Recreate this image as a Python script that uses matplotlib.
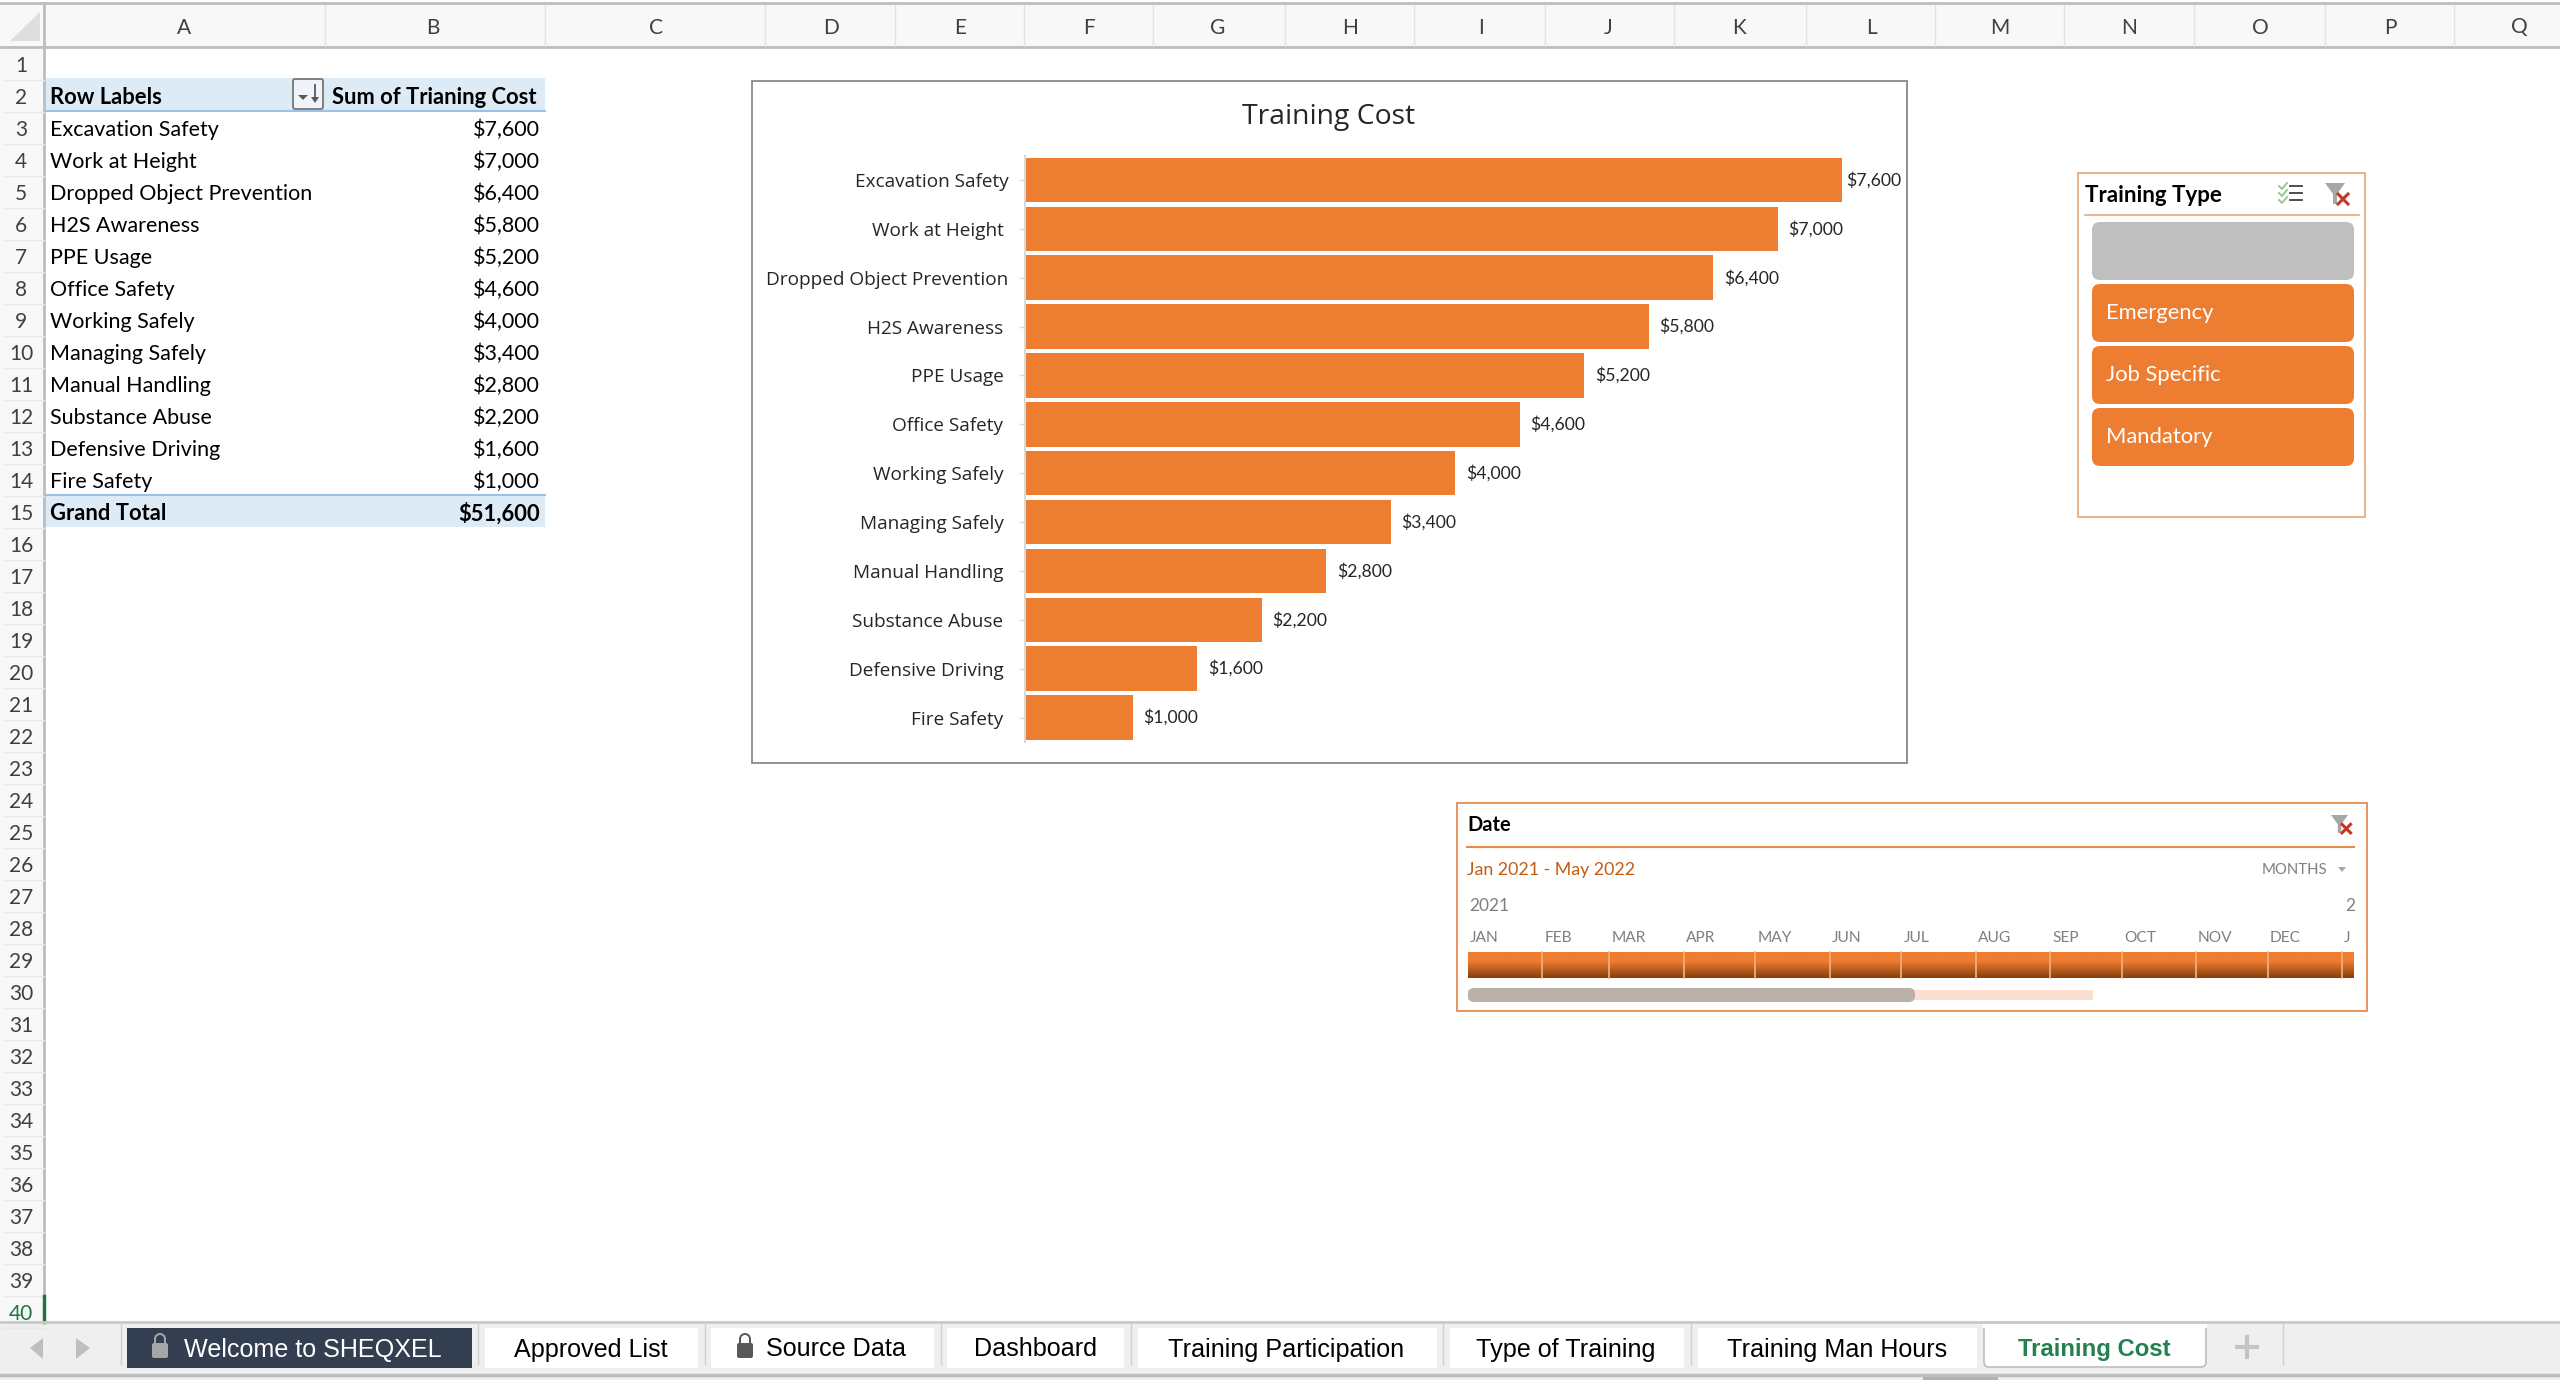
import numpy as np
import matplotlib
matplotlib.use("Agg")
import matplotlib.pyplot as plt
from matplotlib.patches import Rectangle, FancyBboxPatch, Polygon, Wedge

# data from the pivot table
names = ["Excavation Safety", "Work at Height", "Dropped Object Prevention", "H2S Awareness",
         "PPE Usage", "Office Safety", "Working Safely", "Managing Safely",
         "Manual Handling", "Substance Abuse", "Defensive Driving", "Fire Safety"]
costs = [7600, 7000, 6400, 5800, 5200, 4600, 4000, 3400, 2800, 2200, 1600, 1000]
# the chart labels in the sheet mostly carry a trailing blank
chart_names = ["Excavation Safety", "Work at Height ", "Dropped Object Prevention", "H2S Awareness ",
               "PPE Usage ", "Office Safety ", "Working Safely ", "Managing Safely ",
               "Manual Handling ", "Substance Abuse ", "Defensive Driving ", "Fire Safety "]
slicer_items = ["", "Emergency", "Job Specific", "Mandatory"]
months = ["JAN", "FEB", "MAR", "APR", "MAY", "JUN", "JUL", "AUG", "SEP", "OCT", "NOV", "DEC", "J"]
month_days = [31, 28, 31, 30, 31, 30, 31, 31, 30, 31, 30, 31, 5]
col_letters = list("ABCDEFGHIJKLMNOPQ")
col_edges = [45, 325, 545, 765, 895, 1024, 1153, 1285, 1414, 1545, 1674, 1806, 1935, 2064, 2194, 2325, 2454, 2560]
col_centers = [184, 433, 656, 831, 960, 1089, 1218, 1350, 1481, 1608, 1739, 1871, 2000, 2129, 2260, 2390, 2519]
tabs = ["Welcome to SHEQXEL", "Approved List", "Source Data", "Dashboard", "Training Participation",
        "Type of Training", "Training Man Hours", "Training Cost"]
tab_edges = [(127, 472), (485, 698), (711, 934), (947, 1124), (1138, 1437), (1450, 1684), (1698, 1977), (1984, 2206)]
tab_text_x = [313, 591, 836, 1036, 1286, 1566, 1837, 2094]

ORANGE = "#ED7D31"
W, H = 2560, 1380
CELL = "Lato"
CHART = "Open Sans"
TAB = "Liberation Sans"


def row_y(n):
    return 66 + 32 * (n - 1)


def funnel(ax, x, y, s=1.0):
    # little clear-filter icon
    ax.add_patch(Polygon([(x, y), (x + 20 * s, y), (x + 12 * s, y + 11 * s), (x + 12 * s, y + 21 * s),
                          (x + 8 * s, y + 21 * s), (x + 8 * s, y + 11 * s)], fc="#A6A6A6", ec="none"))
    ax.plot([x + 13 * s, x + 23 * s], [y + 11 * s, y + 21 * s], color="#C0392B", lw=2.2)
    ax.plot([x + 23 * s, x + 13 * s], [y + 11 * s, y + 21 * s], color="#C0392B", lw=2.2)


def lock(ax, x, y, col):
    ax.add_patch(Wedge((x, y - 9), 6, 180, 360, width=2, fc=col, ec="none"))
    ax.add_patch(Rectangle((x - 6, y - 10), 2, 5, fc=col, ec="none"))
    ax.add_patch(Rectangle((x + 4, y - 10), 2, 5, fc=col, ec="none"))
    ax.add_patch(FancyBboxPatch((x - 8, y - 5), 16, 15, boxstyle="round,pad=0,rounding_size=2", fc=col, ec="none"))


fig = plt.figure(figsize=(25.6, 13.8), dpi=100, facecolor="white")
bg = fig.add_axes([0, 0, 1, 1])
bg.set_xlim(0, W)
bg.set_ylim(H, 0)
bg.axis("off")

# --- sheet headers ---
bg.add_patch(Rectangle((0, 3), W, 44, fc="#F8F8F8", ec="none"))
bg.add_patch(Rectangle((0, 47), 45, 1275, fc="#F8F8F8", ec="none"))
bg.plot([0, W], [3, 3], color="#BDBDBD", lw=2)
bg.plot([0, W], [47, 47], color="#BDBDBD", lw=2)
bg.plot([44, 44], [3, 1296], color="#BDBDBD", lw=2)
bg.add_patch(Polygon([(10, 41), (40, 41), (40, 12)], fc="#DEDEDE", ec="none"))
for x in col_edges[1:-1]:
    bg.plot([x, x], [5, 46], color="#E3E3E3", lw=1)
for c, x in zip(col_letters, col_centers):
    bg.text(x, 27.5, c, ha="center", va="center", family=CELL, fontsize=15, color="#404040")
for n in range(1, 41):
    y = row_y(n)
    bg.plot([3, 44], [y + 14, y + 14], color="#E8E8E8", lw=1)
    bg.text(21, y, str(n), ha="center", va="center", family=CELL, fontsize=15,
            color="#217346" if n == 40 else "#404040")
bg.plot([44, 44], [1296, 1322], color="#217346", lw=2.5)

# --- pivot table ---
bg.add_patch(Rectangle((46, 78), 499, 33, fc="#DDEBF7", ec="none"))
bg.plot([46, 545], [111, 111], color="#9BC2E6", lw=1.5)
bg.text(50, row_y(2), "Row Labels", va="center", family=CELL, fontsize=15.8, weight="bold", color="black")
bg.text(537, row_y(2), "Sum of Trianing Cost", ha="right", va="center", family=CELL, fontsize=15.8,
        weight="bold", color="black")
bg.add_patch(FancyBboxPatch((293, 79), 30, 30, boxstyle="round,pad=0,rounding_size=2", fc="#EEF4FA", ec="#7F7F7F", lw=1.4))
bg.add_patch(Polygon([(298, 95), (308, 95), (303, 100)], fc="#595959", ec="none"))
bg.plot([315, 315], [85, 100], color="#595959", lw=1.3)
bg.add_patch(Polygon([(311, 97), (319, 97), (315, 103)], fc="#595959", ec="none"))
for i, (name, cost) in enumerate(zip(names, costs)):
    y = row_y(i + 3)
    bg.text(50, y, name, va="center", family=CELL, fontsize=15.5, color="black")
    bg.text(540, y, f"${cost:,}", ha="right", va="center", family=CELL, fontsize=15.5, color="black")
bg.add_patch(Rectangle((46, 495), 499, 32, fc="#DDEBF7", ec="none"))
bg.plot([46, 545], [495, 495], color="#9BC2E6", lw=1.5)
bg.text(50, row_y(15), "Grand Total", va="center", family=CELL, fontsize=15.8, weight="bold", color="black")
bg.text(540, row_y(15), f"${sum(costs):,}", ha="right", va="center", family=CELL, fontsize=15.8, weight="bold", color="black")

# --- chart frame ---
bg.add_patch(Rectangle((752, 81), 1155, 682, fc="white", ec="#7F7F7F", lw=1.2))
bg.text(1329, 117, "Training Cost", ha="center", va="center", family=CHART, fontsize=20.4, color="#262626")

# bars go in their own axes
ax = fig.add_axes([1025 / W, 1 - 742 / H, 860 / W, (742 - 155.5) / H])
ypos = np.arange(len(costs))
ax.barh(ypos, costs, height=0.91, color=ORANGE)
ax.set_xlim(0, 8000)
ax.set_ylim(len(costs) - 0.5, -0.5)
ax.set_yticks(ypos)
ax.set_yticklabels(chart_names, family=CHART, fontsize=13.65, color="#262626")
ax.tick_params(axis="y", length=4, width=1, color="#D9D9D9", pad=8)
ax.xaxis.set_visible(False)
for s in ["top", "right", "bottom"]:
    ax.spines[s].set_visible(False)
ax.spines["left"].set_color("#D9D9D9")
ax.spines["left"].set_linewidth(1.5)
ax.patch.set_alpha(0)
for i, cost in enumerate(costs):
    off = 3 if i == 0 else 8  # first label is squeezed against the frame
    ax.annotate(f"${cost:,}", (cost, i), xytext=(off, 0), textcoords="offset points", va="center",
                family=CELL, fontsize=12.7, color="#262626")

# --- Training Type slicer ---
bg.add_patch(Rectangle((2078, 173), 287, 344, fc="white", ec="#E0A070", lw=1.1))
bg.plot([2085, 2359], [215, 215], color="#E0A070", lw=1.1)
bg.text(2085, 195, "Training Type", va="center", family=CELL, fontsize=16, weight="bold", color="black")
for k in range(3):
    yy = 186 + k * 7
    bg.plot([2279, 2282, 2287], [yy, yy + 3, yy - 3], color="#8CC68C", lw=1.3)
    bg.plot([2290, 2302], [yy, yy], color="#404040", lw=1.3)
funnel(bg, 2325, 183)
for i, item in enumerate(slicer_items):
    top = 222 + 62 * i
    fc = "#BFBFBF" if item == "" else ORANGE
    bg.add_patch(FancyBboxPatch((2092, top), 262, 58, boxstyle="round,pad=0,rounding_size=8", fc=fc, ec="none"))
    bg.text(2106, top + 29, item, va="center", family=CELL, fontsize=15.8, color="white")

# --- Date timeline ---
bg.add_patch(Rectangle((1457, 803), 910, 208, fc="white", ec="#E58B52", lw=1.3))
bg.plot([1467, 2354], [847, 847], color="#E58B52", lw=1.5)
bg.text(1467, 825, "Date", va="center", family=CELL, fontsize=14.5, weight="bold", color="black")
funnel(bg, 2331, 815, 0.85)
bg.text(1467, 870, "Jan 2021 - May 2022", va="center", family=CELL, fontsize=12.8, color="#C55A11")
bg.text(2262, 870, "MONTHS", va="center", family=CELL, fontsize=10.7, color="#7F7F7F")
bg.add_patch(Polygon([(2338, 867), (2346, 867), (2342, 872)], fc="#A6A6A6", ec="none"))
bg.text(1469, 906, "2021", va="center", family=CELL, fontsize=12.5, color="#7F7F7F")
bg.text(2345, 906, "2", va="center", family=CELL, fontsize=12.5, color="#7F7F7F")

grad = np.zeros((64, 1, 3))
top_col = np.array(matplotlib.colors.to_rgb("#ED7D31"))
bot_col = np.array(matplotlib.colors.to_rgb("#843C0C"))
for r in range(64):
    t = max(0, (r / 63 - 0.35) / 0.65)
    grad[r, 0] = top_col * (1 - t) + bot_col * t
bg.imshow(grad, extent=(1468, 2354, 978, 952), aspect="auto", zorder=2)
bg.set_xlim(0, W)
bg.set_ylim(H, 0)
xs = 1468 + 2.395 * np.cumsum([0] + month_days[:-1])
for m, x in zip(months, xs):
    bg.text(x + 2, 938, m, va="center", family=CELL, fontsize=11.2, color="#7F7F7F")
    if x > 1468:
        bg.plot([x, x], [952, 978], color="#F4B183", lw=1.2, zorder=3)
bg.add_patch(Rectangle((1468, 990), 625, 10, fc="#FBE0D2", ec="none"))
bg.add_patch(FancyBboxPatch((1468, 988), 447, 14, boxstyle="round,pad=0,rounding_size=6", fc="#BAB0A9", ec="none"))

# --- sheet tabs ---
bg.add_patch(Rectangle((0, 1322), W, 58, fc="#EFEFEF", ec="none"))
bg.plot([0, W], [1322, 1322], color="#C8C8C8", lw=2)
bg.plot([0, W], [1375, 1375], color="#BDBDBD", lw=2.5)
bg.add_patch(Rectangle((1923, 1375), 75, 5, fc="#B0B0B0", ec="none"))
bg.add_patch(Polygon([(43, 1338), (43, 1359), (30, 1348)], fc="#BFBFBF", ec="none"))
bg.add_patch(Polygon([(76, 1338), (76, 1359), (90, 1348)], fc="#BFBFBF", ec="none"))
for x in [121, 478, 705, 941, 1131, 1443, 1691, 2283]:
    bg.plot([x, x], [1324, 1364], color="#D0D0D0", lw=1)
for i, (tab, (x0, x1), tx) in enumerate(zip(tabs, tab_edges, tab_text_x)):
    if i == len(tabs) - 1:
        bg.add_patch(FancyBboxPatch((x0, 1318), x1 - x0, 49, boxstyle="round,pad=0,rounding_size=5", fc="white", ec="#BDBDBD", lw=1.2))
        bg.add_patch(Rectangle((x0 - 1, 1316), x1 - x0 + 2, 12, fc="white", ec="none"))
        col = "#23804F"
        weight = "bold"
        size = 17.2
    else:
        bg.add_patch(Rectangle((x0, 1328), x1 - x0, 40, fc="#333F50" if i == 0 else "white", ec="none"))
        col = "white" if i == 0 else "black"
        weight = "normal"
        size = 18.1
    bg.text(tx, 1349.5, tab, ha="center", va="center", family=TAB, fontsize=size, color=col, weight=weight)
lock(bg, 160, 1348, "#A6A6A6")
lock(bg, 745, 1348, "#595959")
bg.plot([2237, 2257], [1347, 1347], color="#C4C4C4", lw=3)
bg.plot([2247, 2247], [1337, 1357], color="#C4C4C4", lw=3)

fig.savefig("out.png", dpi=100)
